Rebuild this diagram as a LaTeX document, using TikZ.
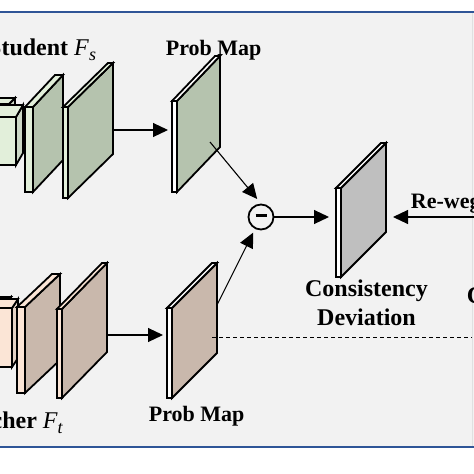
\documentclass[tikz,border=0pt]{standalone}
\usepackage{fontspec}
\setmainfont{Liberation Serif}
\usetikzlibrary{arrows.meta, calc}

\definecolor{panel}{RGB}{242,242,242}
\definecolor{frame}{RGB}{47,85,151}
\definecolor{sfront}{RGB}{226,239,218}
\definecolor{sside}{RGB}{181,195,174}
\definecolor{sbox}{RGB}{204,216,198}
\definecolor{tfront}{RGB}{251,229,214}
\definecolor{tside}{RGB}{201,184,172}
\definecolor{tbox}{RGB}{228,210,197}
\definecolor{dside}{RGB}{191,191,191}

% slab: x, width, top, bottom, dx, dy, front colour, side colour
\newcommand{\slab}[8]{%
  \filldraw[fill=#8] ({#1+#2},#3) -- ++(#5,-#6) -- ({#1+#2+#5},{#4-#6}) -- ({#1+#2},#4) -- cycle;
  \filldraw[fill=#7] (#1,#3) -- ++(#5,-#6) -- ++(#2,0) -- ({#1+#2},#3) -- cycle;
  \filldraw[fill=#7] (#1,#3) rectangle ({#1+#2},#4);
}

\tikzset{
  flow/.style={->, line width=1.1pt},
  maptext/.style={font=\bfseries\fontsize{22}{26}\selectfont, inner sep=0pt},
  titletext/.style={font=\bfseries\fontsize{24}{29}\selectfont, inner sep=0pt},
  minus/.style={circle, draw, fill=panel, line width=1.8pt, minimum size=25pt, inner sep=0pt},
}

\begin{document}
\begin{tikzpicture}[x=1pt, y=-1pt, >={Triangle[length=15pt,width=14pt]}, line width=1.8pt]
  \useasboundingbox (0,0) rectangle (474,474);
  \clip (0,0) rectangle (474,474);
  \fill[white] (0,0) rectangle (474,474);
  \fill[panel] (0,13) rectangle (474,446);
  \draw[black!12, line width=1pt] (472.5,13) -- (472.5,446);
  \draw[frame, line width=2pt] (0,12) -- (474,12);
  \draw[frame, line width=2pt] (0,447) -- (474,447);

  % student branch
  \slab{-30}{39}{104}{140}{6}{6}{sfront}{sbox}
  \slab{-30}{46}{117}{165}{7}{12}{sfront}{sbox}
  \slab{25}{8}{107}{192}{30}{32}{sfront}{sside}
  \slab{63}{5}{107}{198}{45}{44}{sfront}{sside}
  \slab{172}{5}{101}{192}{43}{45}{white}{sside}

  % teacher branch
  \slab{-30}{36}{302}{340}{5}{5}{tfront}{tbox}
  \slab{-30}{42}{308}{367}{6}{9}{tfront}{tbox}
  \slab{17}{8}{307}{393}{35}{33}{tfront}{tside}
  \slab{57}{5}{309}{398}{45}{46}{tfront}{tside}
  \slab{167}{5}{308}{398}{45}{45}{white}{tside}

  % consistency deviation
  \slab{336}{5}{188}{277}{45}{45}{white}{dside}

  \coordinate (sOut) at (113,130);
  \coordinate (sIn) at (168,130);
  \coordinate (tOut) at (107,335);
  \coordinate (tIn) at (163,335);
  \coordinate (sMap) at (210,142);
  \coordinate (tMap) at (217,305);
  \coordinate (tMid) at (212,337);
  \coordinate (dashEnd) at (472,337);
  \coordinate (devIn) at (329,217);
  \coordinate (devOut) at (393,217);
  \coordinate (rwStart) at (480,217);

  \node[minus] (diff) at (261,217) {};
  \draw[line width=2.6pt] ($(diff)+(-5.5,-1.5)$) -- ($(diff)+(5.5,-1.5)$);

  \draw[flow] (sOut) -- (sIn);
  \draw[flow] (tOut) -- (tIn);
  \draw[flow, shorten >=6pt] (sMap) -- (diff.north);
  \draw[flow, shorten >=4pt] (tMap) -- (diff);
  \draw[flow] (diff) -- (devIn);
  \draw[flow] (rwStart) -- (devOut);
  \draw[line width=0.9pt, dash pattern=on 4pt off 3pt] (tMid) -- (dashEnd);

  \node[titletext, anchor=base east] (student) at (97,55)
    {Student \textmd{\textit{F}}\raisebox{-5pt}{\fontsize{18}{18}\selectfont\textmd{\textit{s}}}};
  \node[titletext, anchor=base east] (teacher) at (64,428)
    {Teacher \textmd{\textit{F}}\raisebox{-5pt}{\fontsize{18}{18}\selectfont\textmd{\textit{t}}}};
  \node[maptext, anchor=base west] (sMapText) at (165,55) {Prob Map};
  \node[maptext, anchor=base west] (tMapText) at (148,421) {Prob Map};
  \node[titletext, align=center, anchor=base] (devText) at (366.5,325) {Consistency\\Deviation};
  \node[maptext, anchor=base west] (rwText) at (410,208) {Re-weg};
  \node[titletext, anchor=base west] (cutText) at (466,303) {C};
\end{tikzpicture}
\end{document}
